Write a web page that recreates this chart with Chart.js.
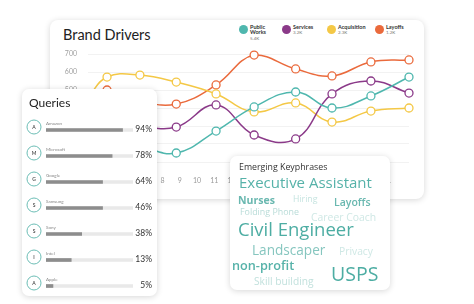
<!DOCTYPE html>
<html lang="en">
<head>
<meta charset="UTF-8">
<title>Brand Drivers</title>
<script src="https://cdn.jsdelivr.net/npm/chart.js"></script>
<style>
  html, body { margin: 0; padding: 0; background: #fff; overflow: hidden; }
  body { width: 474px; height: 304px; position: relative; font-family: "Lato", sans-serif; }
  .card { position: absolute; background: #fff; border-radius: 8px; box-shadow: 0 1px 6px rgba(0,0,0,0.16); }
  #mainCard { left: 50px; top: 20px; width: 374px; height: 179px; }
  #queryCard { left: 22px; top: 89px; width: 135px; height: 207px; border-radius: 7px; }
  #phraseCard { left: 230px; top: 156px; width: 160px; height: 134px; border-radius: 7px; font-family: "Open Sans", sans-serif; }
  .abs { position: absolute; white-space: nowrap; line-height: 1; }
  .title { left: 13px; top: 8px; font-size: 14.5px; color: #222; }
  .leg-dot { position: absolute; width: 9px; height: 9px; border-radius: 50%; }
  .leg-txt { position: absolute; font-size: 5.5px; font-weight: 700; color: #333; line-height: 1.05; }
  .leg-sub { font-weight: 400; color: #777; font-size: 4.5px; }
  #mainCanvasWrap { position: absolute; left: 50px; top: 20px; width: 374px; height: 179px; }
  #queryWrap { position: absolute; left: 22px; top: 110px; width: 135px; height: 190px; }
  .word { position: absolute; white-space: nowrap; line-height: 1; }
</style>
</head>
<body>
  <div class="card" id="mainCard">
    <div class="abs title">Brand Drivers</div>
    <div id="legend"></div>
  </div>
  <div id="mainCanvasWrap"><canvas id="driversChart" width="374" height="179"></canvas></div>

  <div class="card" id="queryCard">
    <div class="abs" style="left:7px; top:8px; font-size:12px; color:#222;">Queries</div>
  </div>
  <div id="queryWrap"><canvas id="queryChart" width="135" height="190"></canvas></div>

  <div class="card" id="phraseCard"></div>

<script>
  // line chart data
  const weekPos = [3.7, 4.8, 6.7, 8.8, 11.1, 13.3, 15.7, 17.8, 20.05, 22.25];
  const publicWorks = [280, 240, 190, 150, 272, 406, 489, 400, 467, 572];
  const services = [360, 330, 300, 294, 417, 250, 228, 478, 550, 483];
  const acquisition = [460, 572, 583, 544, 478, 378, 428, 322, 383, 400];
  const layoffs = [470, 500, 440, 422, 528, 694, 617, 578, 656, 667];

  const seriesNames = ['Public Works', 'Services', 'Acquisition', 'Layoffs'];
  const seriesTotals = ['5.4K', '3.2K', '2.3K', '1.2K'];
  const seriesColors = ['#4fb7ae', '#8b3a89', '#f4c846', '#ea6a3c'];

  // queries panel
  const queryNames = ['Amazon', 'Microsoft', 'Google', 'Samsung', 'Sony', 'Intel', 'Apple'];
  const queryLetters = ['A', 'M', 'G', 'S', 'S', 'I', 'A'];
  const queryShares = ['94%', '78%', '64%', '46%', '38%', '13%', '5%'];
  const queryBars = [88, 76, 65, 65, 41, 29, 8];

  // keyphrases: text, size, color, weight, left, centerY (inside card)
  const phrases = [
    ['Executive Assistant', 15, '#56b2a9', 500, 9, 28],
    ['Nurses', 10.5, '#6ab8b0', 700, 8, 45],
    ['Hiring', 8.7, '#c6e4e0', 400, 63, 44],
    ['Layoffs', 10.5, '#6ab8b0', 600, 104, 47],
    ['Folding Phone', 8.9, '#b9dcd8', 400, 10, 57],
    ['Career Coach', 10.4, '#cfe8e5', 400, 81, 62],
    ['Civil Engineer', 18.5, '#4dada3', 500, 8, 75],
    ['Landscaper', 13.6, '#86c6bf', 500, 22, 95],
    ['Privacy', 10.3, '#cfe8e5', 400, 109, 96],
    ['non-profit', 12.7, '#56b2a9', 600, 2, 111],
    ['USPS', 19.5, '#4dada3', 500, 101, 120],
    ['Skill building', 10.2, '#c2e1dd', 400, 24, 126]
  ];

  // legend
  const legendX = [193, 236, 281, 329];
  const legend = document.getElementById('legend');
  seriesNames.forEach((name, i) => {
    const dot = document.createElement('div');
    dot.className = 'leg-dot';
    dot.style.left = (legendX[i] - 4.5) + 'px';
    dot.style.top = '4.5px';
    dot.style.background = seriesColors[i];
    legend.appendChild(dot);
    const txt = document.createElement('div');
    txt.className = 'leg-txt';
    txt.style.left = (legendX[i] + 7) + 'px';
    txt.style.top = '4.5px';
    const label = name === 'Public Works' ? 'Public<br>Works' : name;
    txt.innerHTML = label + '<br><span class="leg-sub">' + seriesTotals[i] + '</span>';
    legend.appendChild(txt);
  });

  // keyphrase words
  const phraseCard = document.getElementById('phraseCard');
  const head = document.createElement('div');
  head.className = 'word';
  head.style.cssText = 'left:9px; top:7px; font-size:8.8px; color:#333; font-weight:500;';
  head.textContent = 'Emerging Keyphrases';
  phraseCard.appendChild(head);
  phrases.forEach(p => {
    const w = document.createElement('div');
    w.className = 'word';
    w.textContent = p[0];
    w.style.fontSize = p[1] + 'px';
    w.style.color = p[2];
    w.style.fontWeight = p[3];
    w.style.left = p[4] + 'px';
    w.style.top = (p[5] - p[1] * 0.6) + 'px';
    phraseCard.appendChild(w);
  });

  const toPoints = vals => vals.map((v, i) => ({ x: weekPos[i], y: v }));
  const lineSets = [publicWorks, services, acquisition, layoffs].map((vals, i) => ({
    label: seriesNames[i],
    data: toPoints(vals),
    borderColor: seriesColors[i],
    borderWidth: 1.5,
    pointRadius: 4,
    pointBorderWidth: 1.3,
    pointBackgroundColor: '#fff',
    pointBorderColor: seriesColors[i],
    tension: 0.42,
    clip: false
  }));

  new Chart(document.getElementById('driversChart'), {
    type: 'line',
    data: { datasets: lineSets },
    options: {
      responsive: false,
      animation: false,
      maintainAspectRatio: false,
      layout: { padding: { left: 0, top: 34, right: 15, bottom: 0 } },
      plugins: { legend: { display: false }, tooltip: { enabled: false } },
      scales: {
        x: {
          type: 'linear',
          min: 3.7,
          max: 22.25,
          border: { display: false },
          grid: { display: false, drawTicks: false },
          ticks: { stepSize: 1, autoSkip: false, maxRotation: 0, padding: 6, color: '#9a9a9a', font: { family: 'Lato', size: 7 } },
          afterBuildTicks: s => { s.ticks = s.ticks.filter(t => Number.isInteger(t.value)); },
          afterFit: s => { s.height = 28; }
        },
        y: {
          min: 50,
          max: 700,
          border: { display: false },
          grid: { color: '#f2f2f2', drawTicks: false },
          ticks: { stepSize: 100, padding: 11, color: '#a0a0a0', font: { family: 'Lato', size: 7 } },
          afterBuildTicks: s => { s.ticks = s.ticks.filter(t => t.value % 100 === 0); },
          afterFit: s => { s.width = 38; }
        }
      }
    }
  });

  // draws icons, names and shares beside each query bar
  const queryDecor = {
    id: 'queryDecor',
    afterDatasetsDraw(chart) {
      const ctx = chart.ctx;
      const ys = chart.scales.y;
      const area = chart.chartArea;
      ctx.save();
      queryNames.forEach((name, i) => {
        const cy = ys.getPixelForValue(i);
        ctx.beginPath();
        ctx.arc(12, cy - 3, 7, 0, Math.PI * 2);
        ctx.fillStyle = '#fff';
        ctx.fill();
        ctx.lineWidth = 1;
        ctx.strokeStyle = '#6cbdb5';
        ctx.stroke();
        ctx.fillStyle = '#444';
        ctx.font = '600 5px Lato';
        ctx.textAlign = 'center';
        ctx.textBaseline = 'middle';
        ctx.fillText(queryLetters[i], 12, cy - 3);
        ctx.textAlign = 'left';
        ctx.fillStyle = '#888';
        ctx.font = '4.5px Lato';
        ctx.fillText(name, area.left, cy - 6);
        ctx.textAlign = 'right';
        ctx.fillStyle = '#333';
        ctx.font = '8.5px Lato';
        ctx.fillText(queryShares[i], 130, cy - 1);
      });
      ctx.restore();
    }
  };

  new Chart(document.getElementById('queryChart'), {
    type: 'bar',
    data: {
      labels: queryNames,
      datasets: [
        { data: queryBars, backgroundColor: '#8d8d8d', barThickness: 3, grouped: false, order: 0 },
        { data: queryNames.map(() => 100), backgroundColor: '#e9e9e9', barThickness: 3, grouped: false, order: 1 }
      ]
    },
    options: {
      indexAxis: 'y',
      responsive: false,
      animation: false,
      layout: { padding: { left: 24, right: 24, top: 7, bottom: 1 } },
      plugins: { legend: { display: false }, tooltip: { enabled: false } },
      scales: {
        x: { min: 0, max: 100, display: false },
        y: { display: false }
      }
    },
    plugins: [queryDecor]
  });
</script>
</body>
</html>
